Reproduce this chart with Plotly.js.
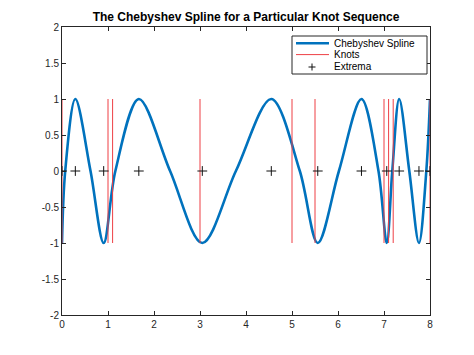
<!DOCTYPE html>
<html>
<head>
<meta charset="utf-8">
<script src="https://cdn.plot.ly/plotly-3.0.1.min.js"></script>
<style>html,body{margin:0;padding:0;background:#fff;}#chart{width:474px;height:355px;}</style>
</head>
<body>
<div id="chart"></div>
<script>
// Knot sites (distinct breaks)
const knots = [0, 1, 1.1, 3, 5, 5.5, 7, 7.1, 7.2, 8];
// Extrema locations (plotted on y = 0)
const extremaX = [0, 0.29, 0.906, 1.67, 3.05, 4.55, 5.56, 6.51, 7.06, 7.33, 7.76, 8];
// Spline curve: extrema and zero crossings
const curveX = [0, 0.07, 0.29, 0.62, 0.906, 1.16, 1.67, 2.35, 3.05, 3.78, 4.55,
                5.17, 5.56, 6.02, 6.51, 6.88, 7.06, 7.18, 7.33, 7.55, 7.76, 7.92, 8];
const curveY = [-1, 0, 1, 0, -1, 0, 1, 0, -1, 0, 1,
                0, -1, 0, 1, 0, -1, 0, 1, 0, -1, 0, 1];
const legendLabels = ['Chebyshev Spline', 'Knots', 'Extrema'];

const blue = '#0072BD', red = '#ee3f45', ink = '#262626';
const font = 'Liberation Sans, Arial, sans-serif';

const kx = [], ky = [];
knots.forEach(k => { kx.push(k, k, null); ky.push(-1, 1, null); });

const traces = [
  {x: curveX, y: curveY, mode: 'lines', name: legendLabels[0],
   line: {color: blue, width: 2.6, shape: 'spline', smoothing: 0.95}},
  {x: kx, y: ky, mode: 'lines', name: legendLabels[1],
   line: {color: red, width: 1}},
  {x: extremaX, y: extremaX.map(() => 0), mode: 'markers', name: legendLabels[2],
   marker: {symbol: 'cross-thin', size: 7, line: {color: '#111', width: 1}, color: '#111'}}
];

// Hand-made legend box (MATLAB style, compact rows)
const px = v => (v - 62) / 368, py = v => (315 - v) / 288;
const rows = [43.3, 54.6, 67];
const shapes = [
  {type: 'rect', xref: 'paper', yref: 'paper', x0: px(292), x1: px(427), y0: py(74), y1: py(36),
   line: {color: ink, width: 1}, fillcolor: '#fff', layer: 'above'},
  {type: 'line', xref: 'paper', yref: 'paper', x0: px(296), x1: px(329), y0: py(rows[0]), y1: py(rows[0]),
   line: {color: blue, width: 2.6}, layer: 'above'},
  {type: 'line', xref: 'paper', yref: 'paper', x0: px(296), x1: px(329), y0: py(rows[1]), y1: py(rows[1]),
   line: {color: red, width: 1}, layer: 'above'},
  {type: 'line', xref: 'paper', yref: 'paper', x0: px(308.5), x1: px(315.5), y0: py(rows[2]), y1: py(rows[2]),
   line: {color: '#111', width: 1}, layer: 'above'},
  {type: 'line', xref: 'paper', yref: 'paper', x0: px(312), x1: px(312), y0: py(rows[2] - 3.5), y1: py(rows[2] + 3.5),
   line: {color: '#111', width: 1}, layer: 'above'}
];
const annotations = legendLabels.map((t, i) => ({
  xref: 'paper', yref: 'paper', x: px(331.5), y: py(rows[i]), xanchor: 'left', yanchor: 'middle',
  text: t, showarrow: false, font: {family: font, size: 10, color: '#000'}
}));

const axisCommon = {
  showgrid: false, zeroline: false, showline: true, mirror: 'allticks',
  linecolor: ink, linewidth: 1, ticks: 'inside', ticklen: 4, tickcolor: ink,
  tickfont: {family: font, size: 10, color: ink}
};

const layout = {
  width: 474, height: 355,
  margin: {l: 62, r: 44, t: 27, b: 40},
  paper_bgcolor: '#fff', plot_bgcolor: '#fff',
  title: {text: '<b>The Chebyshev Spline for a Particular Knot Sequence</b>',
          font: {family: font, size: 12, color: '#000'},
          x: 0.519, xanchor: 'center', y: 0.952, yanchor: 'middle'},
  xaxis: Object.assign({}, axisCommon, {range: [0, 8], tickvals: [0,1,2,3,4,5,6,7,8]}),
  yaxis: Object.assign({}, axisCommon, {range: [-2, 2], tickvals: [-2,-1.5,-1,-0.5,0,0.5,1,1.5,2],
          ticktext: ['-2','-1.5','-1','-0.5','0','0.5','1','1.5','2']}),
  showlegend: false,
  shapes: shapes,
  annotations: annotations
};

Plotly.newPlot('chart', traces, layout, {displayModeBar: false, staticPlot: true});
</script>
</body>
</html>
